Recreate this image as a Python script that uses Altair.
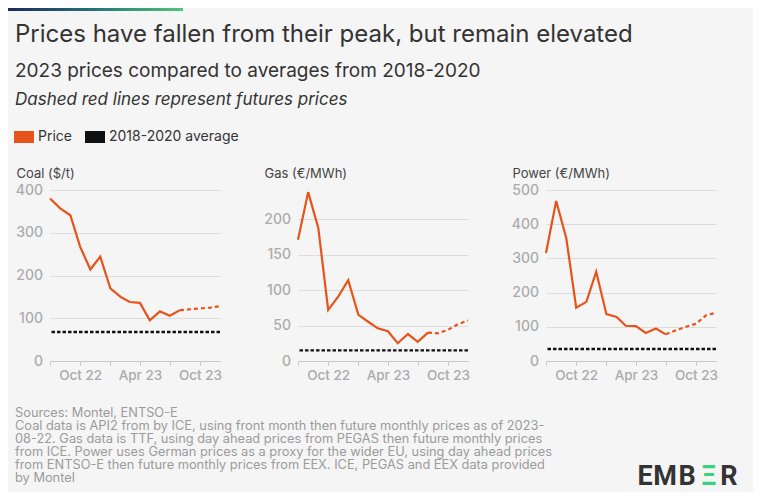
import altair as alt
import pandas as pd

# ---------------- data ----------------
MONTHS = ["2022-07-01", "2022-08-01", "2022-09-01", "2022-10-01", "2022-11-01", "2022-12-01",
          "2023-01-01", "2023-02-01", "2023-03-01", "2023-04-01", "2023-05-01", "2023-06-01",
          "2023-07-01", "2023-08-01", "2023-09-01", "2023-10-01", "2023-11-01", "2023-12-01"]
COAL = [380, 357, 341, 267, 214, 244, 170, 150, 138, 136, 95, 116, 106, 119, 121, 123, 125, 128]
GAS = [171, 238, 187, 72, 91, 114, 65, 55, 46, 42, 25, 38, 27, 40, 39, 44, 52, 57]
POWER = [316, 468, 358, 156, 173, 261, 137, 129, 103, 102, 82, 95, 78, 90, 100, 109, 134, 141]
AVERAGES = {"coal": 68, "gas": 15, "power": 35}
FUTURES_FROM = {"coal": "2023-08-01", "gas": "2023-08-01", "power": "2023-07-01"}
PANEL_TITLES = {"coal": "Coal ($/t)", "gas": "Gas (€/MWh)", "power": "Power (€/MWh)"}
Y_TICKS = {"coal": [0, 100, 200, 300, 400], "gas": [0, 50, 100, 150, 200],
           "power": [0, 100, 200, 300, 400, 500]}
Y_MAX = {"coal": 400, "gas": 241, "power": 500}
X_TICKS = ["2022-07-01", "2022-10-01", "2023-01-01", "2023-04-01", "2023-07-01", "2023-10-01"]

TITLE = "Prices have fallen from their peak, but remain elevated"
SUBTITLE = "2023 prices compared to averages from 2018-2020"
NOTE = "Dashed red lines represent futures prices"
LEGEND_LABELS = ["Price", "2018-2020 average"]
FOOTER_LINES = [
    "Sources: Montel, ENTSO-E",
    "Coal data is API2 from by ICE, using front month then future monthly prices as of 2023-",
    "08-22. Gas data is TTF, using day ahead prices from PEGAS then future monthly prices",
    "from ICE. Power uses German prices as a proxy for the wider EU, using day ahead prices",
    "from ENTSO-E then future monthly prices from EEX. ICE, PEGAS and EEX data provided",
    "by Montel",
]
LOGO_LETTERS = ["E", "M", "B", "Ξ", "R"]

# ---------------- style ----------------
FONT = "Inter"
ORANGE = "#e6541b"
BLACK = "#111111"
GREEN = "#3bd27f"
DARK = "#333333"
GRAY_LABEL = "#ababab"
BG = "#f5f5f5"
LEGEND_COLORS = [ORANGE, BLACK]
LOGO_COLORS = [DARK, DARK, DARK, GREEN, DARK]


def dt(s):
    y, m, d = (int(p) for p in s.split("-"))
    return alt.DateTime(year=y, month=m, date=d)


def panel(key, values):
    df = pd.DataFrame({"date": pd.to_datetime(MONTHS), "value": values})
    fstart = pd.Timestamp(FUTURES_FROM[key])
    actual = df[df["date"] <= fstart]
    futures = df[df["date"] >= fstart]
    avg = pd.DataFrame({"value": [AVERAGES[key]]})

    x = alt.X("date:T",
              scale=alt.Scale(domain=[dt(MONTHS[0]), dt(MONTHS[-1])]),
              axis=alt.Axis(values=[dt(s) for s in X_TICKS],
                            labelExpr="(month(datum.value) == 9 || month(datum.value) == 3) ? timeFormat(datum.value, '%b %y') : ''",
                            grid=False, domain=True, domainColor="#c8c8c8", ticks=True,
                            tickColor="#c8c8c8", tickSize=4, labelPadding=3,
                            labelColor=GRAY_LABEL, labelFontSize=13.5, labelFont=FONT,
                            labelFontWeight=500),
              title=None)
    y = alt.Y("value:Q",
              scale=alt.Scale(domain=[0, Y_MAX[key]], nice=False, zero=True),
              axis=alt.Axis(values=Y_TICKS[key], grid=True, gridColor="#dcdcdc",
                            domain=False, ticks=False, labelPadding=7.5,
                            labelColor=GRAY_LABEL, labelFontSize=14, labelFont=FONT,
                            labelFontWeight=500,
                            title=PANEL_TITLES[key], titleAngle=0, titleX=-34, titleY=-13,
                            titleAlign="left", titleBaseline="alphabetic",
                            titleFontSize=13, titleFontWeight=400, titleFont=FONT,
                            titleColor="#444444"))

    rule = alt.Chart(avg).mark_rule(color=BLACK, strokeWidth=2.4,
                                     strokeDash=[3.5, 2]).encode(y=y)
    line_a = alt.Chart(actual).mark_line(color=ORANGE, strokeWidth=2.2).encode(x=x, y=y)
    line_f = alt.Chart(futures).mark_line(color=ORANGE, strokeWidth=2.2,
                                          strokeDash=[4, 3]).encode(x=x, y=y)
    return alt.layer(rule, line_a, line_f).properties(width=170, height=171)


def text_layer(txt, x, y, size, color=DARK, style="normal", weight=400, align="left",
               font=FONT):
    return alt.Chart(pd.DataFrame({"t": [txt]})).mark_text(
        align=align, baseline="alphabetic", fontSize=size, font=font, color=color,
        fontStyle=style, fontWeight=weight
    ).encode(text="t:N", x=alt.value(x), y=alt.value(y))


# ---------------- header ----------------
bar = alt.Chart(pd.DataFrame({"a": [0]})).mark_rect(
    color=alt.LinearGradient(gradient="linear",
                             stops=[alt.GradientStop(color="#1c2a5c", offset=0),
                                    alt.GradientStop(color="#27737b", offset=0.5),
                                    alt.GradientStop(color="#50c57b", offset=1)],
                             x1=0, x2=1, y1=0, y2=0)
).encode(x=alt.value(0), x2=alt.value(175), y=alt.value(0), y2=alt.value(3))

header_parts = [bar,
                text_layer(TITLE, 7, 33.5, 24, DARK, weight=400),
                text_layer(SUBTITLE, 7, 69, 19, DARK),
                text_layer(NOTE, 7, 97, 17, DARK, style="italic")]
legend_x = [6, 77]
for lab, col, lx in zip(LEGEND_LABELS, LEGEND_COLORS, legend_x):
    header_parts.append(
        alt.Chart(pd.DataFrame({"label": [lab]})).mark_rect(color=col).encode(
            x=alt.value(lx), x2=alt.value(lx + 20), y=alt.value(123), y2=alt.value(135)))
    header_parts.append(text_layer(lab, lx + 24, 133, 14, DARK))

header = alt.layer(*header_parts).properties(width=745, height=158.5)

# ---------------- panels ----------------
spacer = alt.Chart(pd.DataFrame({"a": [0]})).mark_rule(opacity=0).encode(
    y=alt.value(0)).properties(width=7, height=1)
panels = alt.hconcat(panel("coal", COAL), panel("gas", GAS), panel("power", POWER),
                     spacing=38)
middle = alt.hconcat(spacer, panels, spacing=0)

# ---------------- footer ----------------
footer_parts = [
    alt.Chart(pd.DataFrame({"a": [0]})).mark_text(
        align="left", baseline="alphabetic", fontSize=12.8, font=FONT, color="#9b9b9b",
        lineHeight=13
    ).encode(text=alt.value(FOOTER_LINES), x=alt.value(7), y=alt.value(35))
]
logo_x = [637, 657, 679, 701, 721]
for letter, col, lx in zip(LOGO_LETTERS, LOGO_COLORS, logo_x):
    footer_parts.append(text_layer(letter, lx, 103, 27, col, weight=700, align="center",
                                   font="Roboto"))
footer = alt.layer(*footer_parts).properties(width=745, height=110)

chart = alt.vconcat(header, middle, footer, spacing=0).configure(
    background=BG, padding=0
).configure_view(strokeWidth=0)

chart.save("out.html", embed_options={"renderer": "svg", "actions": False})
